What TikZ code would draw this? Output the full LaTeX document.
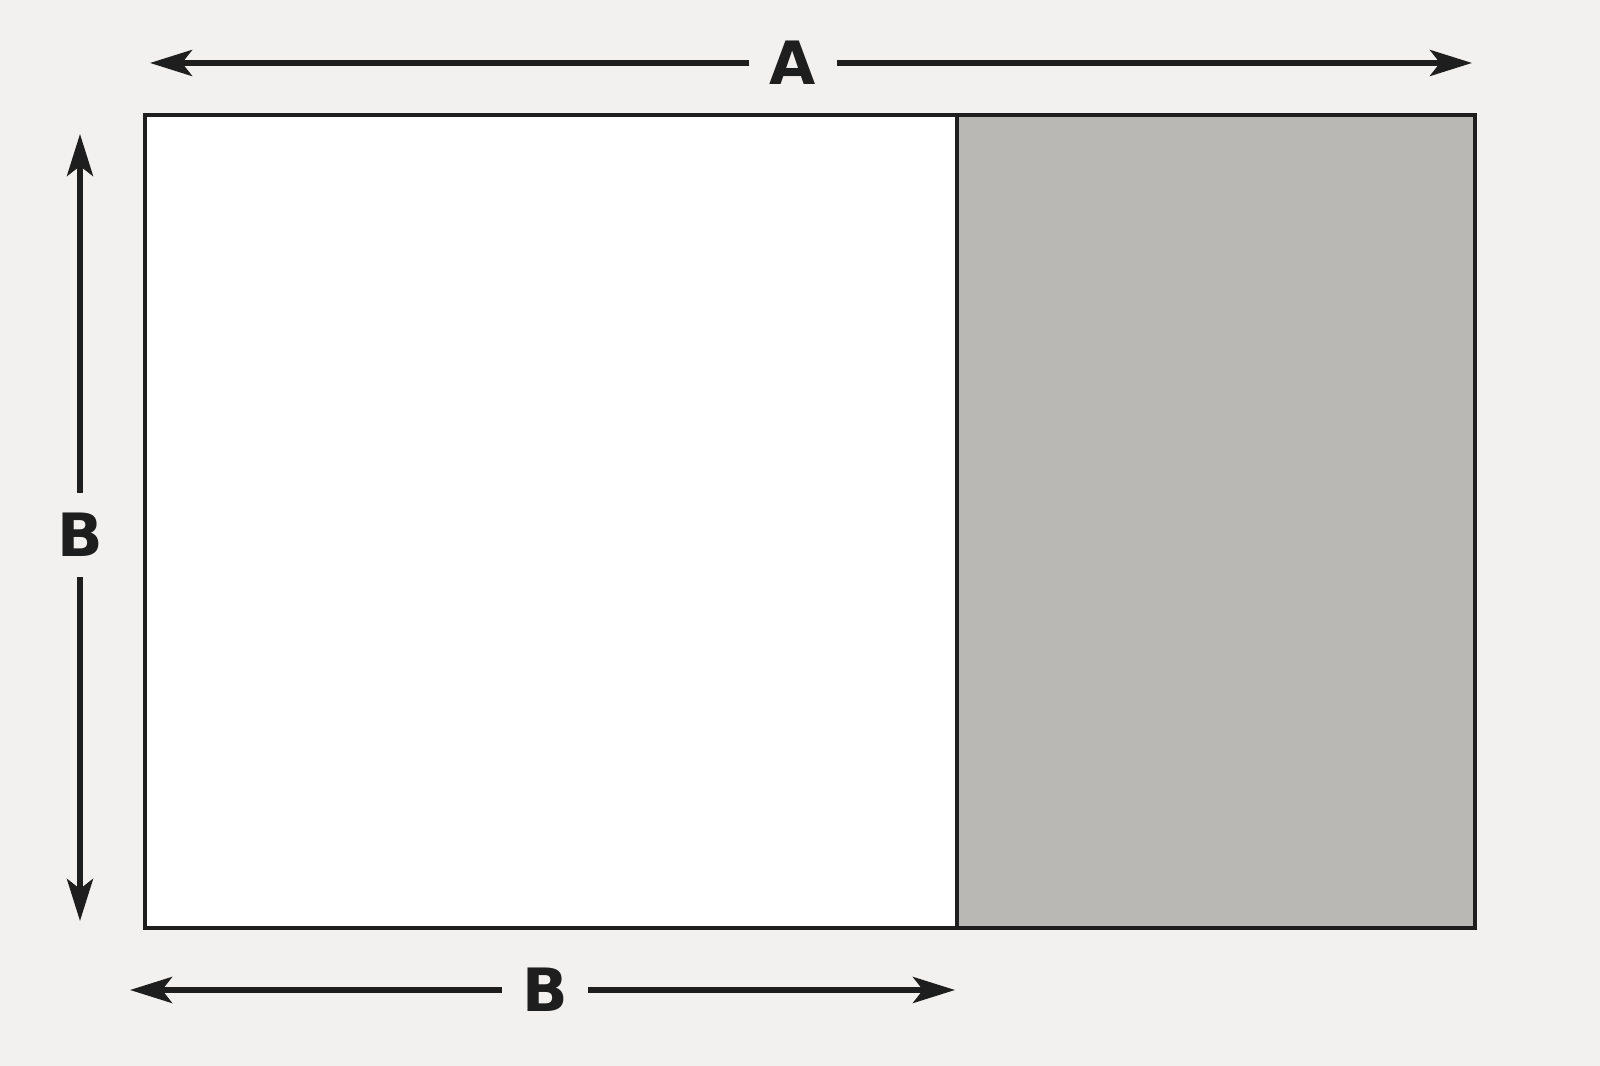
\documentclass[tikz,border=0pt]{standalone}
\usepackage{fontspec}
\setsansfont{DejaVu Sans}
\usetikzlibrary{arrows.meta, positioning}
\definecolor{papercol}{HTML}{F3F1EF}
\definecolor{shadecol}{HTML}{B9B8B5}
\definecolor{inkcol}{HTML}{1E1E1E}

\begin{document}
\begin{tikzpicture}[
    >={Stealth[length=0.42cm, width=0.26cm, inset=0.1cm]},
    dim/.style={->, inkcol, line width=1.6pt},
    lbl/.style={font=\sffamily\bfseries\fontsize{17}{19}\selectfont, text=inkcol, inner sep=0.2cm},
    part/.style={draw=inkcol, line width=1.1pt},
]

% ── Page ──
\fill[papercol] (0,0) rectangle (16,10.66);
\useasboundingbox (0,0) rectangle (16,10.66);

% ── Square and strip ──
\draw[part, fill=white] (1.45,1.38) rectangle (9.57,9.51);
\draw[part, fill=shadecol] (9.57,1.38) rectangle (14.75,9.51);

% ── Dimension ends ──
\coordinate (topL) at (1.50,10.03);
\coordinate (topR) at (14.72,10.03);
\coordinate (sideT) at (0.80,9.32);
\coordinate (sideB) at (0.80,1.45);
\coordinate (botL) at (1.30,0.76);
\coordinate (botR) at (9.55,0.76);

% ── Labels ──
\node[lbl] (labA) at (7.93,10.03) {A};
\node[lbl] (labSide) at (0.80,5.31) {B};
\node[lbl] (labBot) at (5.45,0.76) {B};

% ── Dimension arrows ──
\draw[dim] (labA) -- (topL);
\draw[dim] (labA) -- (topR);
\draw[dim] (labSide) -- (sideT);
\draw[dim] (labSide) -- (sideB);
\draw[dim] (labBot) -- (botL);
\draw[dim] (labBot) -- (botR);

\end{tikzpicture}
\end{document}
